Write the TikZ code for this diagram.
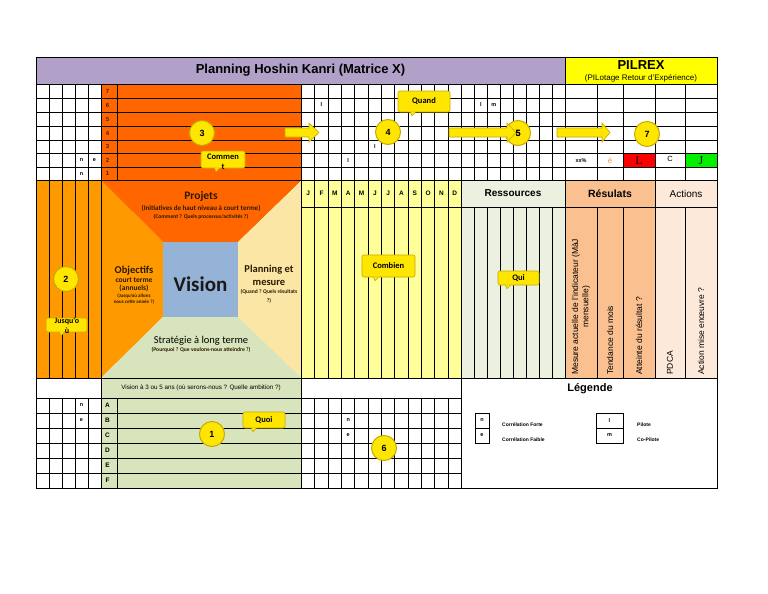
\documentclass[tikz,border=0pt]{standalone}
\usepackage{fontspec}
\setmainfont{Liberation Sans}
\newfontfamily\calib{Carlito}
\newfontfamily\serf{Liberation Serif}
\newcommand\fsz[1]{\fontsize{#1}{\dimexpr #1pt*12/10\relax}\selectfont}
\definecolor{titlepurple}{HTML}{B1A0C7}
\definecolor{pilyellow}{HTML}{FFFF00}
\definecolor{orangeA}{HTML}{FF6600}
\definecolor{orangeB}{HTML}{FF9900}
\definecolor{visblue}{HTML}{95B3D7}
\definecolor{plantan}{HTML}{FCE6A5}
\definecolor{stratgreen}{HTML}{D8E4BC}
\definecolor{monthyel}{HTML}{FFFF99}
\definecolor{resgreen}{HTML}{EBF1DE}
\definecolor{resuorange}{HTML}{FAC090}
\definecolor{actpeach}{HTML}{FDE9D9}
\definecolor{callyel}{HTML}{FFE600}
\definecolor{callborder}{HTML}{C8A800}
\definecolor{numbrown}{HTML}{4A1E00}
\definecolor{darktxt}{HTML}{2A1A00}
\definecolor{smileorange}{HTML}{F79646}
\definecolor{cellred}{HTML}{FF0000}
\definecolor{cellgreen}{HTML}{00F000}
% small pointer under a callout box: #1 node name, #2 x offset (pt) from its south anchor
\newcommand\mkpointer[2]{%
  \fill[callyel] ([xshift=#2pt-2.5pt,yshift=0.7pt]#1.south) -- ([xshift=#2pt-1pt,yshift=-3.5pt]#1.south) -- ([xshift=#2pt+2.5pt,yshift=0.7pt]#1.south) -- cycle;
  \draw[callborder,line width=0.6pt] ([xshift=#2pt-2.5pt]#1.south) -- ([xshift=#2pt-1pt,yshift=-3.5pt]#1.south) -- ([xshift=#2pt+2.5pt]#1.south);}
\begin{document}
\begin{tikzpicture}[x=1pt,y=-1pt,
  gridline/.style={draw=black,line width=0.8pt},
  tiny/.style={font=\bfseries\fsz{5.5},inner sep=0pt},
  numc/.style={circle,fill=callyel,draw=callborder,line width=1pt,minimum size=25pt,inner sep=0pt,font=\bfseries\fsz{9}},
  yarrow/.style={fill=callyel,draw=callborder,line width=0.6pt},
  callbox/.style={rectangle,fill=callyel,draw=callborder,line width=0.6pt,rounded corners=2pt,inner sep=0pt,font=\calib\bfseries\fsz{8.5}},
  vtext/.style={rotate=90,anchor=west,align=center,inner sep=1pt,font=\fsz{8.5}},
  xtext/.style={font=\calib\bfseries,text=darktxt,inner sep=0pt}]
\fill[white] (0,0) rectangle (768,594);
\useasboundingbox (0,0) rectangle (768,594);
% ---------- fills
\fill[titlepurple] (36,57) rectangle (565,84);
\fill[pilyellow] (565,57) rectangle (717,84);
\fill[orangeA] (101,84) rectangle (301.5,180.5);
\fill[orangeB] (36,180.5) rectangle (101,378);
\fill[orangeA] (101,180.5) -- (301.5,180.5) -- (238,242) -- (163,242) -- cycle;
\fill[orangeB] (101,180.5) -- (163,242) -- (163,317) -- (101,378) -- cycle;
\fill[plantan] (301.5,180.5) -- (301.5,378) -- (238,317) -- (238,242) -- cycle;
\fill[stratgreen] (101,378) -- (163,317) -- (238,317) -- (301.5,378) -- cycle;
\fill[visblue] (163,242) rectangle (238,317);
\fill[monthyel] (301.5,180.5) rectangle (461.5,378);
\fill[resgreen] (461.5,180.5) rectangle (565,378);
\fill[resuorange] (565,180.5) rectangle (655,378);
\fill[actpeach] (655,180.5) rectangle (717,378);
\fill[stratgreen] (101,378) rectangle (301.5,488);
\fill[cellred] (623,153.5) rectangle (655,167);
\fill[cellgreen] (685,153.5) rectangle (717,167);
% ---------- grid lines
\foreach \y in {84,98,112,126,140,153.5,167,180.5} \draw[gridline] (36,\y) -- (717,\y);
\foreach \x in {49,62,75,88,101,117} \draw[gridline] (\x,84) -- (\x,180.5);
\foreach \i in {1,...,11} {
  \draw[gridline] ({301.5+13.333*\i},84) -- ({301.5+13.333*\i},378);
  \draw[gridline] ({301.5+13.333*\i},398) -- ({301.5+13.333*\i},488);
}
\foreach \i in {1,...,7} {
  \draw[gridline] ({461.5+12.9375*\i},84) -- ({461.5+12.9375*\i},180.5);
  \draw[gridline] ({461.5+12.9375*\i},207) -- ({461.5+12.9375*\i},378);
}
\foreach \x in {597,623,685} {
  \draw[gridline] (\x,84) -- (\x,180.5);
  \draw[gridline] (\x,207) -- (\x,378);
}
\draw[gridline] (565,57) -- (565,378);
\draw[gridline] (655,84) -- (655,378);
\draw[gridline] (301.5,84) -- (301.5,488);
\draw[gridline] (461.5,84) -- (461.5,488);
\draw[gridline] (101,180.5) -- (101,488);
\draw[gridline] (301.5,207) -- (717,207);
\draw[gridline] (36,378) -- (717,378);
\foreach \y in {398,413,428,443,458,473} \draw[gridline] (36,\y) -- (461.5,\y);
\foreach \x in {49,62,75,88} {
  \draw[gridline] (\x,180.5) -- (\x,378);
  \draw[gridline] (\x,398) -- (\x,488);
}
\draw[gridline] (117,398) -- (117,488);
\draw[gridline] (36,57) rectangle (717,488);
% ---------- header texts
\node[font=\bfseries\fsz{13}] (title) at (300.5,70.5) {Planning Hoshin Kanri (Matrice X)};
\node[font=\bfseries\fsz{13},inner sep=0pt] (pil) at (641,65) {PILREX};
\node[font=\fsz{8},inner sep=0pt] (pilsub) at (641,78) {(PILotage Retour d'Expérience)};
% numbers column
\foreach \n/\y in {7/91,6/105,5/119,4/133,3/146.75,2/160.25,1/173.75}
  \node[inner sep=0pt,text=numbrown,font=\bfseries\fsz{6}] (num\n) at (107.5,\y) {\n};
% correlation marks top-left
\node[tiny] (tn2) at (81.5,160.25) {n};
\node[tiny] (te2) at (94.5,160.25) {e};
\node[tiny] (tn1) at (81.5,173.75) {n};
% pilots marks top-middle
\node[tiny] (pl1) at (321.5,105) {l};
\node[tiny] (pl2) at (374.8,146.75) {l};
\node[tiny] (pl3) at (348.2,160.25) {l};
\node[tiny] (pl4) at (480.9,105) {l};
\node[tiny] (pm1) at (493.9,105) {m};
% PILREX row
\node[tiny] (xx) at (581,160.25) {xx\%};
\node[font=\fsz{8},text=smileorange,inner sep=0pt] (sm1) at (610,160.25) {è};
\node[font=\serf\fsz{12},inner sep=0pt] (sm2) at (639,160.5) {L};
\node[font=\fsz{7.5},inner sep=0pt] (sm3) at (670,158.5) {C};
\node[font=\serf\fsz{12},inner sep=0pt] (sm4) at (701,160.5) {J};
% months
\foreach \m [count=\i] in {J,F,M,A,M,J,J,A,S,O,N,D}
  \node[font=\bfseries\fsz{6.5},inner sep=0pt] (mon\i) at ({301.5+13.333*(\i-0.5)},193.5) {\m};
\node[font=\bfseries\fsz{10}] (ress) at (513,193.5) {Ressources};
\node[font=\bfseries\fsz{10.5}] (resu) at (610,193.5) {Résulats};
\node[font=\fsz{10}] (act) at (686,193.5) {Actions};
% vertical texts
\node[vtext] (v1) at (581,376) {Mesure actuelle de l'indicateur (MàJ\\mensuelle)};
\node[vtext] (v2) at (610,376) {Tendance du mois};
\node[vtext] (v3) at (639,376) {Atteinte du résultat ?};
\node[vtext] (v4) at (670,376) {PDCA};
\node[vtext] (v5) at (701,376) {Action mise enœuvre ?};
% X matrix texts
\node[xtext,font=\calib\bfseries\fsz{11.5}] (proj1) at (201,196) {Projets};
\node[xtext,font=\calib\bfseries\fsz{7}] (proj2) at (201,208.5) {(Initiatives de haut niveau à court terme)};
\node[xtext,font=\calib\bfseries\fsz{5.6}] (proj3) at (201,216.5) {(Comment ? Quels processus/activités ?)};
\node[xtext,font=\calib\bfseries\fsz{10.5}] (obj1) at (134,271) {Objectifs};
\node[xtext,font=\calib\bfseries\fsz{7.5}] (obj2) at (134,280.5) {court terme};
\node[xtext,font=\calib\bfseries\fsz{7.5}] (obj3) at (134,288.5) {(annuels)};
\node[xtext,font=\calib\bfseries\fsz{5}] (obj4) at (134,296.5) {(Jusqu'où allons};
\node[xtext,font=\calib\bfseries\fsz{5}] (obj5) at (134,302.5) {nous cette année ?)};
\node[xtext,font=\calib\bfseries\fsz{21},text=black!90] (vis) at (200.5,284) {Vision};
\node[xtext,font=\calib\bfseries\fsz{10.5}] (plan1) at (269,270) {Planning et};
\node[xtext,font=\calib\bfseries\fsz{10.5}] (plan2) at (269,283) {mesure};
\node[xtext,font=\calib\bfseries\fsz{5.5}] (plan3) at (269,292) {(Quand ? Quels résultats};
\node[xtext,font=\calib\bfseries\fsz{5.5}] (plan4) at (269,300.5) {?)};
\node[xtext,font=\calib\fsz{10.5},text=black] (strat1) at (201,340.5) {Stratégie à long terme};
\node[xtext,font=\calib\bfseries\fsz{5.6}] (strat2) at (201,350) {(Pourquoi ? Que voulons-nous atteindre ?)};
% bottom
\node[font=\fsz{6.3},inner sep=0pt] (visrow) at (201,388) {Vision à 3 ou 5 ans (où serons-nous ? Quelle ambition ?)};
\foreach \l/\y in {A/405.5,B/420.5,C/435.5,D/450.5,E/465.5,F/480.5}
  \node[tiny,font=\bfseries\fsz{6.5}] (row\l) at (107.5,\y) {\l};
\node[tiny] (bn1) at (81.5,405.5) {n};
\node[tiny] (be1) at (81.5,420.5) {e};
\node[tiny] (bn2) at (348.2,420.5) {n};
\node[tiny] (be2) at (348.2,435.5) {e};
% legend
\node[font=\bfseries\fsz{11}] (leg) at (590,389) {Légende};
\draw[gridline,line width=0.7pt] (475,413) rectangle (489,443);
\draw[gridline,line width=0.7pt] (475,428) -- (489,428);
\draw[gridline,line width=0.7pt] (596,413) rectangle (623,443);
\draw[gridline,line width=0.7pt] (596,428) -- (623,428);
\node[tiny] (lgn) at (482,420.5) {n};
\node[tiny] (lge) at (482,435.5) {e};
\node[tiny] (lgl) at (609.5,420.5) {l};
\node[tiny] (lgm) at (609.5,435.5) {m};
\node[tiny,font=\bfseries\fsz{5},anchor=west] (lcf) at (502,425) {Corrélation Forte};
\node[tiny,font=\bfseries\fsz{5},anchor=west] (lcw) at (502,440) {Corrélation Faible};
\node[tiny,font=\bfseries\fsz{5},anchor=west] (lpi) at (637,425) {Pilote};
\node[tiny,font=\bfseries\fsz{5},anchor=west] (lcp) at (637,440) {Co-Pilote};
% ---------- numbered circles
\node[numc] (c1) at (212,434) {1};
\node[numc] (c2) at (66,279) {2};
\node[numc] (c3) at (202,133) {3};
\node[numc] (c4) at (388,132) {4};
\node[numc] (c5) at (518,133) {5};
\node[numc] (c6) at (384,448) {6};
\node[numc] (c7) at (647,134) {7};
% ---------- block arrows
\draw[yarrow] (285,128) -- (309,128) -- (309,123) -- (319,132.5) -- (309,142) -- (309,137) -- (285,137) -- cycle;
\draw[yarrow] (449,128) -- (507,128) -- (507,123) -- (516,132.5) -- (507,142) -- (507,137) -- (449,137) -- cycle;
\draw[yarrow] (557,128) -- (602,128) -- (602,123) -- (610,132.5) -- (602,142) -- (602,137) -- (557,137) -- cycle;
\node[font=\bfseries\fsz{9},inner sep=0pt] (c5t) at (c5) {5};
% ---------- callouts
\node[callbox,minimum width=52pt,minimum height=21pt] (quand) at (424,101.5) {Quand};
\mkpointer{quand}{-11}
\node[callbox,minimum width=44pt,minimum height=17pt] (cmt) at (223,159.5) {};
\mkpointer{cmt}{-6}
\node[font=\calib\bfseries\fsz{8.5},inner sep=0pt] (cmtA) at (223,156.5) {Commen};
\node[font=\calib\bfseries\fsz{8.5},inner sep=0pt] (cmtB) at (223,167) {t};
\node[callbox,minimum width=53pt,minimum height=22pt] (comb) at (388.5,266) {Combien};
\mkpointer{comb}{-12.5}
\node[callbox,minimum width=41pt,minimum height=14pt] (qui) at (518.5,278) {Qui};
\mkpointer{qui}{-10.5}
\node[callbox,minimum width=41pt,minimum height=14pt] (jus) at (66.5,325) {};
\mkpointer{jus}{-4.5}
\node[font=\calib\bfseries\fsz{8},inner sep=0pt] (jusA) at (67,321.5) {Jusqu'o};
\node[font=\calib\bfseries\fsz{8},inner sep=0pt] (jusB) at (67,330.5) {ù};
\node[callbox,minimum width=42pt,minimum height=16pt] (quoi) at (264,420) {Quoi};
\mkpointer{quoi}{-10}
\end{tikzpicture}
\end{document}
